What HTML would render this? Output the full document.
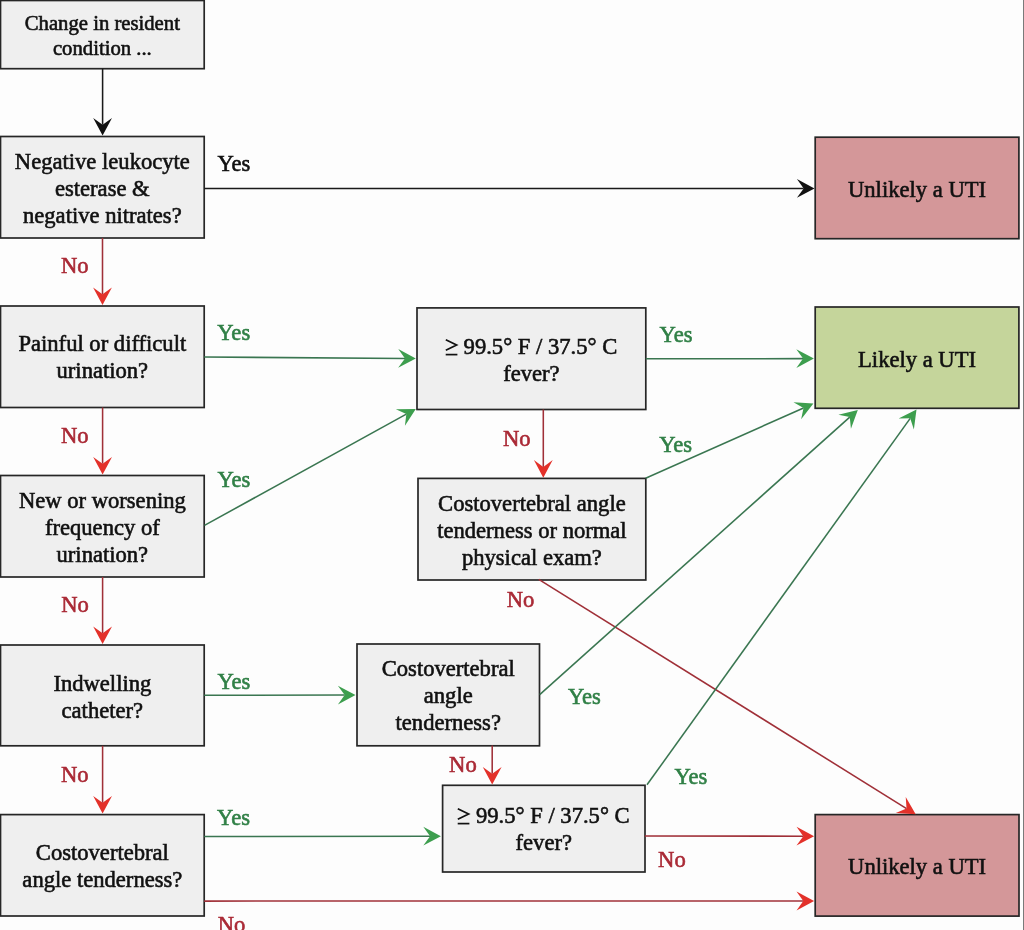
<!DOCTYPE html>
<html><head><meta charset="utf-8"><style>
html,body{margin:0;padding:0;background:#fdfdfd;width:1024px;height:930px;overflow:hidden;}
#c{position:relative;width:1024px;height:930px;will-change:transform;font-family:"Liberation Serif",serif;}
svg{position:absolute;left:0;top:0;font-family:"Liberation Serif",serif;}
.bt{position:absolute;-webkit-text-stroke:0.6px #111;display:flex;align-items:center;justify-content:center;text-align:center;color:#111;box-sizing:border-box;}
.edge{position:absolute;left:1023px;top:0;width:1px;height:930px;background:#7a7a7a;}
</style></head><body><div id="c">
<svg width="1024" height="930" viewBox="0 0 1024 930">
<rect x="0.5" y="0.5" width="203.70" height="68.20" fill="#efefef" stroke="#262626" stroke-width="1.7"/>
<rect x="0.5" y="136.5" width="203.70" height="101.50" fill="#efefef" stroke="#262626" stroke-width="1.7"/>
<rect x="0.5" y="306" width="203.70" height="101.50" fill="#efefef" stroke="#262626" stroke-width="1.7"/>
<rect x="0.5" y="475.5" width="203.70" height="101.50" fill="#efefef" stroke="#262626" stroke-width="1.7"/>
<rect x="0.5" y="645" width="203.70" height="100.80" fill="#efefef" stroke="#262626" stroke-width="1.7"/>
<rect x="0.5" y="814.6" width="203.70" height="101.40" fill="#efefef" stroke="#262626" stroke-width="1.7"/>
<rect x="417" y="307.9" width="228.80" height="101.60" fill="#efefef" stroke="#262626" stroke-width="1.7"/>
<rect x="418" y="478.4" width="227.80" height="101.60" fill="#efefef" stroke="#262626" stroke-width="1.7"/>
<rect x="357" y="644" width="182.50" height="101.80" fill="#efefef" stroke="#262626" stroke-width="1.7"/>
<rect x="442.6" y="785.3" width="202.40" height="86.70" fill="#efefef" stroke="#262626" stroke-width="1.7"/>
<rect x="815.2" y="137.2" width="203.70" height="101.50" fill="#d49799" stroke="#262626" stroke-width="1.7"/>
<rect x="815.2" y="307" width="203.70" height="101.30" fill="#c5d59b" stroke="#262626" stroke-width="1.7"/>
<rect x="815.2" y="814.6" width="203.80" height="101.50" fill="#d49799" stroke="#262626" stroke-width="1.7"/>
<path d="M102.60,68.70 L102.60,124.70" stroke="#1a1a1a" stroke-width="1.55" fill="none"/>
<polygon points="102.60,135.50 93.20,117.90 102.60,124.70 112.00,117.90" fill="#111111"/>
<path d="M204.20,188.40 L803.70,188.40" stroke="#1a1a1a" stroke-width="1.55" fill="none"/>
<polygon points="814.50,188.40 796.90,197.80 803.70,188.40 796.90,179.00" fill="#111111"/>
<path d="M102.50,238.00 L102.50,294.20" stroke="#a03038" stroke-width="1.55" fill="none"/>
<polygon points="102.50,305.00 93.10,287.40 102.50,294.20 111.90,287.40" fill="#e3312a"/>
<path d="M102.60,407.50 L102.60,463.70" stroke="#a03038" stroke-width="1.55" fill="none"/>
<polygon points="102.60,474.50 93.20,456.90 102.60,463.70 112.00,456.90" fill="#e3312a"/>
<path d="M102.60,577.00 L102.60,633.20" stroke="#a03038" stroke-width="1.55" fill="none"/>
<polygon points="102.60,644.00 93.20,626.40 102.60,633.20 112.00,626.40" fill="#e3312a"/>
<path d="M102.60,745.80 L102.60,802.80" stroke="#a03038" stroke-width="1.55" fill="none"/>
<polygon points="102.60,813.60 93.20,796.00 102.60,802.80 112.00,796.00" fill="#e3312a"/>
<path d="M204.20,357.00 L405.00,358.52" stroke="#3a7651" stroke-width="1.55" fill="none"/>
<polygon points="415.80,358.60 398.13,367.87 405.00,358.52 398.27,349.07" fill="#3d9e4e"/>
<path d="M204.50,525.40 L406.34,414.11" stroke="#3a7651" stroke-width="1.55" fill="none"/>
<polygon points="415.80,408.90 404.93,425.63 406.34,414.11 395.85,409.17" fill="#3d9e4e"/>
<path d="M645.80,358.80 L803.10,358.61" stroke="#3a7651" stroke-width="1.55" fill="none"/>
<polygon points="813.90,358.60 796.31,368.02 803.10,358.61 796.29,349.22" fill="#3d9e4e"/>
<path d="M543.30,409.50 L543.30,466.90" stroke="#a03038" stroke-width="1.55" fill="none"/>
<polygon points="543.30,477.70 533.90,460.10 543.30,466.90 552.70,460.10" fill="#e3312a"/>
<path d="M645.60,478.20 L803.53,407.99" stroke="#3a7651" stroke-width="1.55" fill="none"/>
<polygon points="813.40,403.60 801.14,419.34 803.53,407.99 793.50,402.16" fill="#3d9e4e"/>
<path d="M538.75,579.40 L906.53,808.59" stroke="#a03038" stroke-width="1.55" fill="none"/>
<polygon points="915.70,814.30 895.79,812.97 906.53,808.59 905.73,797.01" fill="#e3312a"/>
<path d="M204.20,695.30 L344.70,695.02" stroke="#3a7651" stroke-width="1.55" fill="none"/>
<polygon points="355.50,695.00 337.92,704.43 344.70,695.02 337.88,685.63" fill="#3d9e4e"/>
<path d="M539.70,694.60 L849.75,417.10" stroke="#3a7651" stroke-width="1.55" fill="none"/>
<polygon points="857.80,409.90 850.95,428.64 849.75,417.10 838.42,414.63" fill="#3d9e4e"/>
<path d="M492.20,745.60 L492.20,773.70" stroke="#a03038" stroke-width="1.55" fill="none"/>
<polygon points="492.20,784.50 482.80,766.90 492.20,773.70 501.60,766.90" fill="#e3312a"/>
<path d="M204.20,836.50 L430.10,836.21" stroke="#3a7651" stroke-width="1.55" fill="none"/>
<polygon points="440.90,836.20 423.31,845.62 430.10,836.21 423.29,826.82" fill="#3d9e4e"/>
<path d="M647.00,784.80 L910.20,418.37" stroke="#3a7651" stroke-width="1.55" fill="none"/>
<polygon points="916.50,409.60 913.87,429.38 910.20,418.37 898.60,418.41" fill="#3d9e4e"/>
<path d="M644.80,835.90 L803.30,836.18" stroke="#a03038" stroke-width="1.55" fill="none"/>
<polygon points="814.10,836.20 796.48,845.57 803.30,836.18 796.52,826.77" fill="#e3312a"/>
<path d="M204.20,901.10 L803.30,901.00" stroke="#a03038" stroke-width="1.55" fill="none"/>
<polygon points="814.10,901.00 796.50,910.40 803.30,901.00 796.50,891.60" fill="#e3312a"/>
<text x="217.5" y="170.8" fill="#111" stroke="#111" stroke-width="0.6" font-size="22.6">Yes</text>
<text x="60.900000000000006" y="273.09999999999997" fill="#aa2a36" stroke="#aa2a36" stroke-width="0.6" font-size="22.6">No</text>
<text x="217.29999999999998" y="340.2" fill="#318047" stroke="#318047" stroke-width="0.6" font-size="22.6">Yes</text>
<text x="61.0" y="442.79999999999995" fill="#aa2a36" stroke="#aa2a36" stroke-width="0.6" font-size="22.6">No</text>
<text x="217.39999999999998" y="486.9" fill="#318047" stroke="#318047" stroke-width="0.6" font-size="22.6">Yes</text>
<text x="61.2" y="612.1999999999999" fill="#aa2a36" stroke="#aa2a36" stroke-width="0.6" font-size="22.6">No</text>
<text x="217.39999999999998" y="688.8" fill="#318047" stroke="#318047" stroke-width="0.6" font-size="22.6">Yes</text>
<text x="61.0" y="781.9" fill="#aa2a36" stroke="#aa2a36" stroke-width="0.6" font-size="22.6">No</text>
<text x="217.1" y="825.1999999999999" fill="#318047" stroke="#318047" stroke-width="0.6" font-size="22.6">Yes</text>
<text x="217.7" y="931.6999999999999" fill="#aa2a36" stroke="#aa2a36" stroke-width="0.6" font-size="22.6">No</text>
<text x="659.6" y="342.0" fill="#318047" stroke="#318047" stroke-width="0.6" font-size="22.6">Yes</text>
<text x="502.9" y="445.79999999999995" fill="#aa2a36" stroke="#aa2a36" stroke-width="0.6" font-size="22.6">No</text>
<text x="659.2" y="452.0" fill="#318047" stroke="#318047" stroke-width="0.6" font-size="22.6">Yes</text>
<text x="506.8" y="607.1" fill="#aa2a36" stroke="#aa2a36" stroke-width="0.6" font-size="22.6">No</text>
<text x="567.9000000000001" y="703.6" fill="#318047" stroke="#318047" stroke-width="0.6" font-size="22.6">Yes</text>
<text x="449.09999999999997" y="771.65" fill="#aa2a36" stroke="#aa2a36" stroke-width="0.6" font-size="22.6">No</text>
<text x="674.5" y="783.9" fill="#318047" stroke="#318047" stroke-width="0.6" font-size="22.6">Yes</text>
<text x="658.1" y="867.0" fill="#aa2a36" stroke="#aa2a36" stroke-width="0.6" font-size="22.6">No</text>
</svg>
<div class="bt" style="left:0.50px;top:2.20px;width:203.70px;height:68.20px;font-size:20.7px;line-height:24.8px"><div>Change in resident<br>condition ...</div></div>
<div class="bt" style="left:0.50px;top:137.80px;width:203.70px;height:101.50px;font-size:22.6px;line-height:27.0px"><div>Negative leukocyte<br>esterase &amp;<br>negative nitrates?</div></div>
<div class="bt" style="left:0.50px;top:306.50px;width:203.70px;height:101.50px;font-size:22.6px;line-height:27.0px"><div>Painful or difficult<br>urination?</div></div>
<div class="bt" style="left:0.50px;top:477.00px;width:203.70px;height:101.50px;font-size:22.6px;line-height:27.0px"><div>New or worsening<br>frequency of<br>urination?</div></div>
<div class="bt" style="left:0.50px;top:646.40px;width:203.70px;height:100.80px;font-size:22.6px;line-height:27.0px"><div>Indwelling<br>catheter?</div></div>
<div class="bt" style="left:0.50px;top:815.80px;width:203.70px;height:101.40px;font-size:22.6px;line-height:27.0px"><div>Costovertebral<br>angle tenderness?</div></div>
<div class="bt" style="left:417.00px;top:308.90px;width:228.80px;height:101.60px;font-size:22.6px;line-height:27.0px"><div><span style="display:inline-block;position:relative;width:12.4px;height:1px"><svg style="position:absolute;left:0;top:0;overflow:visible" width="12.4" height="1"><polyline points="-0.2,-13.2 10.6,-8.0 -0.2,-2.8" fill="none" stroke="#111" stroke-width="1.7" stroke-linejoin="miter"/><line x1="-0.3" y1="1.6" x2="11.4" y2="1.6" stroke="#111" stroke-width="1.7"/></svg></span> 99.5° F / 37.5° C<br>fever?</div></div>
<div class="bt" style="left:418.00px;top:479.60px;width:227.80px;height:101.60px;font-size:22.6px;line-height:27.0px"><div>Costovertebral angle<br>tenderness or normal<br>physical exam?</div></div>
<div class="bt" style="left:357.00px;top:644.30px;width:182.50px;height:101.80px;font-size:22.6px;line-height:27.0px"><div>Costovertebral<br>angle<br>tenderness?</div></div>
<div class="bt" style="left:442.60px;top:785.90px;width:202.40px;height:86.70px;font-size:22.6px;line-height:27.0px"><div><span style="display:inline-block;position:relative;width:12.4px;height:1px"><svg style="position:absolute;left:0;top:0;overflow:visible" width="12.4" height="1"><polyline points="-0.2,-13.2 10.6,-8.0 -0.2,-2.8" fill="none" stroke="#111" stroke-width="1.7" stroke-linejoin="miter"/><line x1="-0.3" y1="1.6" x2="11.4" y2="1.6" stroke="#111" stroke-width="1.7"/></svg></span> 99.5° F / 37.5° C<br>fever?</div></div>
<div class="bt" style="left:815.20px;top:139.20px;width:203.70px;height:101.50px;font-size:22.6px;line-height:27.0px"><div>Unlikely a UTI</div></div>
<div class="bt" style="left:815.20px;top:308.60px;width:203.70px;height:101.30px;font-size:22.6px;line-height:27.0px"><div>Likely a UTI</div></div>
<div class="bt" style="left:815.20px;top:815.60px;width:203.80px;height:101.50px;font-size:22.6px;line-height:27.0px"><div>Unlikely a UTI</div></div>
<div class="edge"></div>
</div></body></html>
